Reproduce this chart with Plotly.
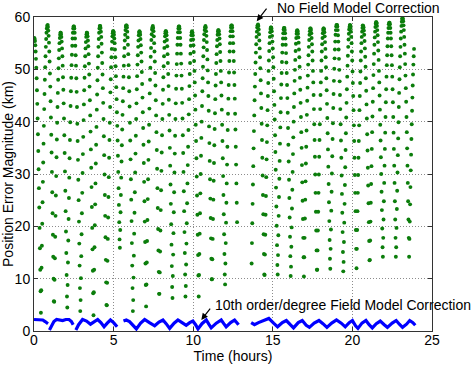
import numpy as np
import plotly.graph_objects as go

# ================= data =================
# Green dots: position error with no field model correction (km).
# One list per orbit, samples every DT hours, starting at orbit_start[k].
DT = 0.02065
orbit_start = [0.0, 0.857, 1.678, 2.514, 3.325, 4.161, 4.982, 5.818, 6.629, 7.465,
               8.286, 9.122, 9.933, 10.769, 11.590, 12.426, 13.670, 14.073, 14.894,
               15.730, 16.541, 17.377, 18.198, 19.034, 19.845, 20.681, 21.502, 22.338,
               23.149]

orb00 = [55.8, 56.0, 55.8, 55.4, 54.6, 53.4, 52.0, 50.3, 48.3, 46.0, 43.4, 40.6, 37.6, 34.4, 30.9, 27.3, 23.6, 19.7, 15.8, 11.7, 7.6,
         3.5, 7.8, 12.1, 16.3, 20.5, 24.6, 28.5, 32.2, 35.8, 39.2, 42.4, 45.3, 48.0, 50.4, 52.5, 54.3, 55.8, 57.0, 57.8, 58.3]
orb01 = [58.5, 58.1, 57.4, 56.4, 55.1, 53.4, 51.5, 49.2, 46.7, 43.9, 40.8, 37.5, 34.1, 30.4, 26.5, 22.5, 18.4, 14.2, 10.0, 5.7,
         5.6, 9.8, 13.9, 18.0, 22.0, 25.9, 29.6, 33.2, 36.6, 39.8, 42.8, 45.5, 48.0, 50.2, 52.1, 53.7, 55.0, 56.0, 56.6, 57.0]
orb02 = [57.0, 56.7, 56.2, 55.3, 54.0, 52.5, 50.7, 48.5, 46.1, 43.5, 40.6, 37.4, 34.0, 30.5, 26.8, 22.9, 19.0, 14.9, 10.7, 6.6,
         4.5, 8.8, 13.1, 17.3, 21.4, 25.4, 29.3, 33.0, 36.5, 39.9, 43.0, 45.8, 48.4, 50.8, 52.8, 54.5, 55.9, 57.0, 57.8, 58.2]
orb03 = [58.2, 57.8, 57.0, 55.9, 54.5, 52.7, 50.7, 48.3, 45.7, 42.8, 39.6, 36.3, 32.7, 28.9, 25.0, 20.9, 16.7, 12.5, 8.2, 3.8,
         5.9, 10.1, 14.3, 18.5, 22.5, 26.4, 30.2, 33.8, 37.1, 40.3, 43.3, 46.0, 48.4, 50.6, 52.5, 54.0, 55.2, 56.2, 56.7, 57.0]
orb04 = [57.0, 56.8, 56.3, 55.5, 54.4, 52.9, 51.1, 49.0, 46.7, 44.1, 41.2, 38.1, 34.7, 31.2, 27.5, 23.7, 19.7, 15.6, 11.5, 7.2,
         3.0, 7.4, 11.7, 16.0, 20.2, 24.2, 28.2, 32.0, 35.6, 39.0, 42.3, 45.2, 47.9, 50.3, 52.5, 54.3, 55.8, 57.0, 57.8, 58.3]
orb05 = [58.3, 57.9, 57.2, 56.2, 54.9, 53.2, 51.2, 49.0, 46.4, 43.6, 40.5, 37.2, 33.6, 29.9, 26.0, 22.0, 17.9, 13.6, 9.3, 5.0,
         4.9, 9.2, 13.4, 17.6, 21.7, 25.6, 29.4, 33.1, 36.5, 39.8, 42.8, 45.6, 48.1, 50.4, 52.3, 53.9, 55.3, 56.3, 56.9, 57.3]
orb06 = [57.3, 57.1, 56.6, 55.9, 55.0, 53.8, 52.3, 50.6, 48.7, 46.6, 44.3, 41.8, 39.2, 36.4, 33.5, 30.4, 27.3, 24.1, 20.8, 17.5,
         15.9, 19.3, 22.7, 26.0, 29.3, 32.4, 35.5, 38.5, 41.3, 43.9, 46.4, 48.6, 50.7, 52.5, 54.1, 55.5, 56.6, 57.5, 58.1, 58.4]
orb07 = [58.4, 58.0, 57.2, 56.1, 54.7, 52.9, 50.8, 48.5, 45.8, 42.9, 39.8, 36.4, 32.8, 29.0, 25.1, 21.0, 16.8, 12.5, 8.2, 3.8,
         5.9, 10.2, 14.4, 18.6, 22.6, 26.5, 30.3, 33.9, 37.3, 40.5, 43.5, 46.2, 48.7, 50.9, 52.7, 54.3, 55.5, 56.5, 57.0, 57.3]
orb08 = [57.2, 57.0, 56.6, 55.8, 54.6, 53.2, 51.5, 49.5, 47.2, 44.6, 41.8, 38.8, 35.6, 32.1, 28.5, 24.8, 20.9, 17.0, 12.9, 8.8,
         4.7, 8.9, 13.1, 17.2, 21.2, 25.2, 29.0, 32.7, 36.2, 39.4, 42.5, 45.4, 48.0, 50.3, 52.4, 54.1, 55.6, 56.7, 57.6, 58.0]
orb09 = [58.3, 57.9, 57.3, 56.3, 55.0, 53.4, 51.5, 49.3, 46.9, 44.1, 41.2, 38.0, 34.6, 31.0, 27.3, 23.5, 19.5, 15.4, 11.3, 7.1,
         7.1, 11.2, 15.2, 19.2, 23.1, 26.9, 30.6, 34.1, 37.4, 40.5, 43.4, 46.1, 48.5, 50.6, 52.5, 54.1, 55.3, 56.3, 56.9, 57.3]
orb10 = [57.3, 57.1, 56.5, 55.6, 54.4, 52.9, 51.2, 49.1, 46.8, 44.2, 41.3, 38.3, 35.0, 31.6, 28.0, 24.3, 20.4, 16.5, 12.4, 8.4,
         6.3, 10.5, 14.6, 18.7, 22.7, 26.5, 30.3, 33.9, 37.3, 40.5, 43.5, 46.3, 48.8, 51.0, 53.0, 54.7, 56.0, 57.1, 57.8, 58.2]
orb11 = [58.2, 57.8, 57.1, 56.0, 54.7, 53.0, 51.1, 48.8, 46.3, 43.6, 40.6, 37.4, 34.0, 30.4, 26.7, 22.9, 18.9, 14.9, 10.8, 6.6,
         8.6, 12.7, 16.7, 20.6, 24.4, 28.2, 31.7, 35.2, 38.4, 41.4, 44.3, 46.8, 49.1, 51.2, 53.0, 54.5, 55.6, 56.5, 57.1, 57.3]
orb12 = [57.1, 57.0, 56.5, 55.7, 54.6, 53.3, 51.6, 49.7, 47.5, 45.0, 42.3, 39.4, 36.3, 33.0, 29.5, 25.9, 22.2, 18.4, 14.5, 10.6,
         6.6, 10.7, 14.7, 18.6, 22.5, 26.3, 30.0, 33.5, 36.9, 40.0, 43.0, 45.8, 48.3, 50.5, 52.5, 54.2, 55.6, 56.7, 57.5, 58.0]
orb13 = [58.3, 58.0, 57.3, 56.4, 55.2, 53.7, 51.9, 49.8, 47.5, 44.9, 42.1, 39.1, 35.9, 32.5, 29.0, 25.3, 21.6, 17.7, 13.8, 9.9,
         9.9, 13.7, 17.6, 21.4, 25.1, 28.7, 32.1, 35.5, 38.6, 41.6, 44.3, 46.9, 49.1, 51.2, 52.9, 54.4, 55.6, 56.6, 57.2, 57.5]
orb14 = [57.5, 57.3, 56.7, 55.9, 54.8, 53.3, 51.6, 49.7, 47.5, 45.0, 42.3, 39.4, 36.3, 33.0, 29.6, 26.0, 22.3, 18.5, 14.7, 10.8,
         8.9, 12.9, 16.8, 20.7, 24.5, 28.2, 31.8, 35.2, 38.4, 41.5, 44.4, 47.0, 49.4, 51.6, 53.4, 55.0, 56.3, 57.3, 58.0, 58.4]
orb15 = [58.4, 58.0, 57.3, 56.3, 55.0, 53.4, 51.6, 49.4, 47.0, 44.4, 41.5, 38.5, 35.2, 31.8, 28.2, 24.5, 20.8]
orb16 = [12.9, 16.8, 20.6, 24.3, 28.0, 31.5, 34.9, 38.2, 41.2, 44.1, 46.7, 49.1, 51.3, 53.2, 54.8, 56.2, 57.2, 58.0, 58.4]
orb17 = [58.6, 58.3, 57.6, 56.7, 55.5, 54.0, 52.3, 50.2, 47.9, 45.4, 42.6, 39.6, 36.5, 33.1, 29.7, 26.0, 22.3, 18.5, 14.7, 10.8,
         10.7, 14.6, 18.4, 22.2, 25.8, 29.4, 32.8, 36.1, 39.3, 42.2, 44.9, 47.4, 49.7, 51.7, 53.5, 55.0, 56.2, 57.1, 57.7, 58.0]
orb18 = [58.0, 57.8, 57.3, 56.4, 55.3, 54.0, 52.3, 50.4, 48.2, 45.8, 43.2, 40.4, 37.4, 34.2, 30.8, 27.4, 23.8, 20.1, 16.4, 12.6,
         10.8, 14.5, 18.3, 22.0, 25.6, 29.1, 32.5, 35.8, 38.9, 41.8, 44.5, 47.1, 49.3, 51.4, 53.2, 54.7, 55.9, 56.9, 57.6, 57.9]
orb19 = [57.9, 57.5, 56.9, 55.9, 54.7, 53.1, 51.3, 49.3, 47.0, 44.5, 41.7, 38.8, 35.6, 32.4, 28.9, 25.4, 21.7, 18.0, 14.3, 10.5,
         12.3, 16.1, 19.8, 23.4, 27.0, 30.4, 33.8, 37.0, 40.0, 42.8, 45.4, 47.8, 49.9, 51.8, 53.5, 54.9, 56.0, 56.8, 57.3, 57.5]
orb20 = [57.4, 57.3, 56.8, 56.1, 55.1, 53.8, 52.3, 50.5, 48.4, 46.1, 43.6, 40.9, 38.0, 35.0, 31.7, 28.4, 24.9, 21.4, 17.8, 14.1,
         10.4, 14.1, 17.8, 21.5, 25.1, 28.6, 32.0, 35.2, 38.3, 41.3, 44.0, 46.5, 48.8, 50.9, 52.7, 54.3, 55.6, 56.6, 57.3, 57.8]
orb21 = [57.8, 57.5, 56.9, 56.0, 54.8, 53.4, 51.7, 49.7, 47.5, 45.1, 42.4, 39.5, 36.5, 33.3, 29.9, 26.4, 22.8, 19.2, 15.4, 11.7,
         11.7, 15.4, 19.2, 22.8, 26.4, 29.9, 33.3, 36.5, 39.5, 42.4, 45.1, 47.5, 49.7, 51.7, 53.4, 54.8, 56.0, 56.9, 57.5, 57.8]
orb22 = [57.8, 57.6, 57.1, 56.3, 55.2, 53.9, 52.3, 50.4, 48.3, 46.0, 43.4, 40.7, 37.8, 34.7, 31.4, 28.1, 24.6, 21.0, 17.4, 13.8,
         11.9, 15.7, 19.4, 23.0, 26.6, 30.1, 33.4, 36.7, 39.7, 42.6, 45.3, 47.8, 50.1, 52.1, 53.8, 55.3, 56.6, 57.5, 58.2, 58.5]
orb23 = [58.5, 58.2, 57.5, 56.5, 55.3, 53.8, 52.0, 49.9, 47.7, 45.1, 42.4, 39.5, 36.4, 33.1, 29.7, 26.2, 22.6, 18.9, 15.1, 11.4,
         13.2, 17.0, 20.7, 24.3, 27.9, 31.3, 34.6, 37.8, 40.8, 43.6, 46.2, 48.6, 50.7, 52.6, 54.3, 55.7, 56.8, 57.6, 58.1, 58.3]
orb24 = [58.5, 58.4, 57.9, 57.2, 56.2, 55.0, 53.4, 51.7, 49.6, 47.4, 44.9, 42.2, 39.3, 36.3, 33.1, 29.8, 26.4, 22.9, 19.3, 15.7,
         12.0, 15.7, 19.3, 22.9, 26.4, 29.8, 33.1, 36.3, 39.3, 42.2, 44.9, 47.4, 49.6, 51.7, 53.4, 55.0, 56.2, 57.2, 57.9, 58.4]
orb25 = [58.3, 58.0, 57.4, 56.6, 55.4, 54.0, 52.4, 50.5, 48.3, 45.9, 43.3, 40.6, 37.6, 34.5, 31.2, 27.8, 24.4, 20.8, 17.2, 13.5,
         13.6, 17.3, 20.9, 24.5, 28.1, 31.5, 34.8, 38.0, 41.0, 43.8, 46.4, 48.9, 51.0, 53.0, 54.7, 56.1, 57.2, 58.1, 58.7, 59.0]
orb26 = [59.0, 58.8, 58.3, 57.5, 56.5, 55.2, 53.6, 51.8, 49.7, 47.5, 45.0, 42.3, 39.4, 36.4, 33.2, 30.0, 26.6, 23.1, 19.6, 16.0,
         14.2, 17.8, 21.3, 24.8, 28.3, 31.6, 34.8, 37.9, 40.9, 43.7, 46.2, 48.6, 50.8, 52.7, 54.4, 55.9, 57.0, 57.9, 58.6, 58.9]
orb27 = [58.9, 58.6, 57.9, 57.0, 55.9, 54.4, 52.7, 50.8, 48.6, 46.2, 43.7, 40.9, 37.9, 34.8, 31.6, 28.3, 24.8, 21.3, 17.8, 14.2,
         16.0, 19.7, 23.3, 26.8, 30.3, 33.6, 36.8, 39.9, 42.8, 45.5, 48.1, 50.4, 52.5, 54.3, 55.9, 57.2, 58.3, 59.1, 59.6, 59.8]
orb28 = [59.7, 59.6, 59.2, 58.4, 57.5, 56.2, 54.7, 53.0, 51.0, 48.8, 46.4, 43.8, 40.9, 38.0, 34.9, 31.6, 28.3, 24.8, 21.3, 17.8,
         14.2, 17.6, 20.9, 24.2, 27.5, 30.7, 33.7, 36.7, 39.5, 42.1, 44.6, 46.9, 49.0, 50.9, 52.5, 53.9]

orbits = [orb00, orb01, orb02, orb03, orb04, orb05, orb06, orb07, orb08, orb09,
          orb10, orb11, orb12, orb13, orb14, orb15, orb16, orb17, orb18, orb19,
          orb20, orb21, orb22, orb23, orb24, orb25, orb26, orb27, orb28]

# Blue line: position error with 10th order/degree field model correction (km)
blue_t = [0.0, 0.2, 0.4, 0.55, 0.7, 0.88, None,
          0.97, 1.1, 1.25, 1.42, 1.6, 1.8, 2.0, 2.2, 2.35, 2.46, None,
          2.63, 2.8, 3.05, 3.3, 3.55, 3.8, 4.0, 4.2, 4.4, 4.6, 4.8, 5.0, 5.22, None,
          5.62, 5.8, 6.0, 6.2, 6.43, 6.7, 6.95, 7.25, 7.58, 7.85, 8.1, 8.3, 8.52, 8.8, 9.04, 9.3,
          9.56, 9.78, 9.98, 10.15, 10.3, 10.55, 10.82, 10.98, 11.13, 11.45, 11.76, 11.92, 12.07,
          12.35, 12.6, 12.85, None,
          13.64, 13.85, 14.1, 14.4, 14.75, 15.05, 15.3, 15.6, 15.85, 16.1, 16.3, 16.6, 16.85, 17.1,
          17.3, 17.6, 17.9, 18.15, 18.4, 18.7, 19.0, 19.3, 19.55, 19.8, 20.0, 20.2, 20.35, 20.6,
          20.85, 21.05, 21.25, 21.5, 21.75, 22.0, 22.2, 22.5, 22.75, 22.95, 23.15, 23.4, 23.6,
          23.8, 23.95]
blue_v = [2.2, 2.2, 2.2, 2.1, 1.8, 1.4, None,
          0.2, 1.0, 1.8, 2.2, 2.1, 2.0, 2.2, 2.2, 1.8, 1.2, None,
          0.2, 1.2, 2.2, 1.9, 1.3, 1.9, 2.2, 1.6, 0.8, 1.5, 2.1, 1.6, 0.8, None,
          1.9, 2.1, 1.8, 1.1, 0.4, 1.5, 2.2, 1.6, 1.0, 1.7, 2.1, 1.4, 0.5, 1.5, 2.1, 1.6,
          1.1, 1.6, 1.9, 1.2, 0.4, 1.4, 2.1, 1.3, 0.6, 1.5, 2.1, 1.4, 0.8,
          1.6, 2.1, 1.2, None,
          1.6, 1.2, 1.6, 2.0, 2.4, 1.5, 0.8, 1.6, 2.0, 1.2, 0.6, 1.6, 2.0, 1.1,
          0.7, 1.5, 2.0, 1.4, 0.7, 1.5, 2.1, 1.5, 0.8, 1.6, 2.0, 1.0, 0.5, 1.5,
          2.0, 1.2, 0.6, 1.4, 1.9, 1.2, 0.7, 1.5, 2.0, 1.3, 0.7, 1.3, 2.0,
          1.6, 1.1]

x_ticks = [0, 5, 10, 15, 20, 25]
y_ticks = [0, 10, 20, 30, 40, 50, 60]

# ================= figure =================
FONT = "Liberation Sans, Arial, Helvetica, sans-serif"
GREEN = "#0b7d0b"

gx, gy = [], []
for t0, vals in zip(orbit_start, orbits):
    gx.extend(t0 + np.arange(len(vals)) * DT)
    gy.extend(vals)

fig = go.Figure()
fig.add_trace(go.Scatter(
    x=gx, y=gy, mode="markers",
    marker=dict(symbol="circle", size=3.9, color=GREEN, line=dict(width=0)),
    showlegend=False, hoverinfo="skip"))

fig.add_trace(go.Scatter(
    x=blue_t, y=blue_v, mode="lines",
    line=dict(color="#0000ff", width=3.2),
    connectgaps=False, showlegend=False, hoverinfo="skip"))

axis_common = dict(
    showgrid=True, gridcolor="#8c8c8c", griddash="1px,2px", gridwidth=1,
    zeroline=False, showline=True, linecolor="#333333", linewidth=1,
    mirror="ticks", ticks="inside", ticklen=4, tickcolor="#333333",
    tickfont=dict(family=FONT, size=14, color="black"),
)

fig.update_xaxes(range=[0, 25], tickvals=x_ticks, ticktext=[str(v) for v in x_ticks],
                 ticklabelstandoff=-4,
                 title=dict(text="Time (hours)", font=dict(family=FONT, size=14, color="black"),
                            standoff=0),
                 **axis_common)
fig.update_yaxes(range=[0, 60], tickvals=y_ticks, ticktext=[str(v) for v in y_ticks],
                 title=dict(text="Position Error Magnitude (km)",
                            font=dict(family=FONT, size=14, color="black"), standoff=2),
                 **axis_common)

# annotations (arrows point at the data, labels sit beside the arrow tails)
fig.add_annotation(x=13.99, y=59.2, xref="x", yref="y", ax=11, ay=-14,
                   text="", showarrow=True, arrowhead=2, arrowsize=1.1,
                   arrowwidth=1.2, arrowcolor="black")
fig.add_annotation(x=0.6055, y=1.0287, xref="paper", yref="paper",
                   text="No Field Model Correction", showarrow=False,
                   xanchor="left", yanchor="middle",
                   font=dict(family=FONT, size=14, color="black"))
fig.add_annotation(x=10.51, y=2.1, xref="x", yref="y", ax=10, ay=-13,
                   text="", showarrow=True, arrowhead=2, arrowsize=1.1,
                   arrowwidth=1.2, arrowcolor="black")
fig.add_annotation(x=0.4505, y=0.0828, xref="paper", yref="paper",
                   text="10th order/degree Field Model Correction", showarrow=False,
                   xanchor="left", yanchor="middle",
                   font=dict(family=FONT, size=14, color="black"))

fig.update_layout(
    width=474, height=367,
    margin=dict(l=34, r=42, t=17, b=36, autoexpand=False),
    paper_bgcolor="white", plot_bgcolor="white",
    font=dict(family=FONT, size=14, color="black"),
    showlegend=False,
)

fig.write_html("out.html", config={"displayModeBar": False},
               post_script="document.body.style.margin='0';")
